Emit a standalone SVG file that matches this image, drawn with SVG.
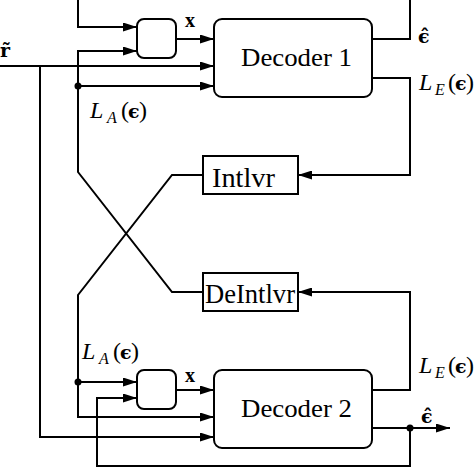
<svg xmlns="http://www.w3.org/2000/svg" width="474" height="470" viewBox="0 0 474 470">
<style>
.ln{fill:none;stroke:#000;stroke-width:2;stroke-linejoin:miter}
.box{fill:#fff;stroke:#000;stroke-width:2}
.t{font-family:"Liberation Serif","DejaVu Serif",serif;fill:#000}
.m{font-family:"Liberation Serif","DejaVu Serif",serif;font-style:italic;fill:#000;font-size:24px}
.e{font-family:"DejaVu Serif","Liberation Serif",serif;font-weight:bold;font-style:normal;fill:#000}
.b{font-family:"Liberation Serif","DejaVu Serif",serif;font-weight:bold;fill:#000}
</style>
<defs>
<marker id="ar" markerUnits="userSpaceOnUse" markerWidth="14" markerHeight="9" refX="14" refY="4.5" orient="auto">
<path d="M0,0 L14,4.5 L0,9 z" fill="#000"/>
</marker>
</defs>
<g id="connectors">
<path class="ln" d="M78,0 V27 H137" marker-end="url(#ar)"/>
<path class="ln" d="M203,292 H172 L78,172 V51 H137" marker-end="url(#ar)"/>
<path class="ln" d="M78,86 H214" marker-end="url(#ar)"/>
<path class="ln" d="M176,39 H214" marker-end="url(#ar)"/>
<path class="ln" d="M0,66 H214" marker-end="url(#ar)"/>
<path class="ln" d="M40,66 V437 H214" marker-end="url(#ar)"/>
<path class="ln" d="M372,39 H410 V0"/>
<path class="ln" d="M372,78 H410 V175 H298" marker-end="url(#ar)"/>
<path class="ln" d="M203,175 H172 L78,295 V417 H214" marker-end="url(#ar)"/>
<path class="ln" d="M78,382 H137" marker-end="url(#ar)"/>
<path class="ln" d="M176,390 H214" marker-end="url(#ar)"/>
<path class="ln" d="M372,390 H410 V292 H298" marker-end="url(#ar)"/>
<path class="ln" d="M372,428 H450" marker-end="url(#ar)"/>
<path class="ln" d="M410,428 V466 H97 V398 H137" marker-end="url(#ar)"/>
<circle cx="78" cy="86" r="3.5"/>
<circle cx="78" cy="382" r="3.5"/>
<circle cx="410" cy="428" r="3.5"/>
</g>
<g id="mapper1">
<rect class="box" x="137" y="19" width="39" height="39" rx="7"/>
</g>
<g id="decoder1">
<rect class="box" x="214" y="19" width="158" height="78" rx="8"/>
<text class="t" x="241" y="66" font-size="25" textLength="111" lengthAdjust="spacingAndGlyphs">Decoder 1</text>
</g>
<g id="intlvr">
<rect class="box" x="203" y="156" width="95" height="38"/>
<text class="t" x="212" y="187" font-size="28" textLength="63" lengthAdjust="spacingAndGlyphs">Intlvr</text>
</g>
<g id="deintlvr">
<rect class="box" x="203" y="273" width="95" height="38"/>
<text class="t" x="205" y="303" font-size="28" textLength="90" lengthAdjust="spacingAndGlyphs">DeIntlvr</text>
</g>
<g id="mapper2">
<rect class="box" x="137" y="370" width="39" height="39" rx="7"/>
</g>
<g id="decoder2">
<rect class="box" x="214" y="370" width="158" height="78" rx="8"/>
<text class="t" x="241" y="417" font-size="25" textLength="111" lengthAdjust="spacingAndGlyphs">Decoder 2</text>
</g>
<g id="labels">
<text class="e" x="0" y="57" font-size="19">r̃</text>
<text class="b" x="185" y="27" font-size="20">x</text>
<text class="b" x="185" y="382" font-size="20">x</text>
<text class="e" x="418" y="43" font-size="19">ϵ̂</text>
<text class="e" x="421" y="423" font-size="19">ϵ̂</text>
<text class="m" y="118"><tspan x="90">L</tspan><tspan x="107" y="123" font-size="16">A</tspan><tspan x="121" y="118" font-style="normal">(</tspan><tspan class="e" x="128" font-size="19">ϵ</tspan><tspan x="139" font-style="normal">)</tspan></text>
<text class="m" y="359"><tspan x="82">L</tspan><tspan x="99" y="364" font-size="16">A</tspan><tspan x="113" y="359" font-style="normal">(</tspan><tspan class="e" x="120" font-size="19">ϵ</tspan><tspan x="131" font-style="normal">)</tspan></text>
<text class="m" y="90"><tspan x="419">L</tspan><tspan x="435" y="95" font-size="16">E</tspan><tspan x="448" y="90" font-style="normal">(</tspan><tspan class="e" x="455" font-size="19">ϵ</tspan><tspan x="466" font-style="normal">)</tspan></text>
<text class="m" y="373"><tspan x="419">L</tspan><tspan x="435" y="378" font-size="16">E</tspan><tspan x="448" y="373" font-style="normal">(</tspan><tspan class="e" x="455" font-size="19">ϵ</tspan><tspan x="466" font-style="normal">)</tspan></text>
</g>
</svg>
